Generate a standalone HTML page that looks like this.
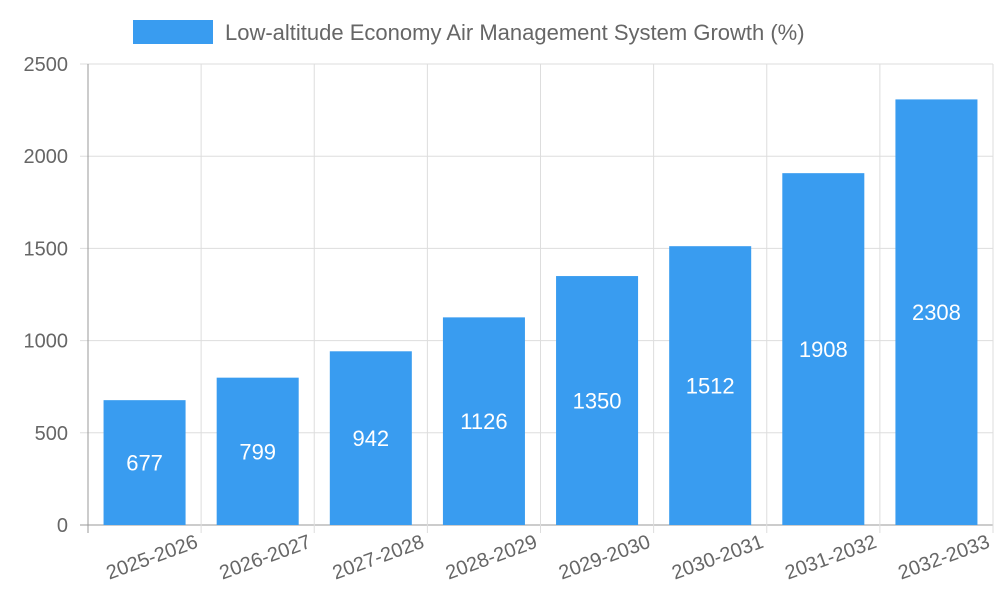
<!DOCTYPE html>
<html><head><meta charset="utf-8"><style>
body{margin:0;background:#fff;}
svg text{font-family:"Liberation Sans",sans-serif;}
</style></head><body>
<svg id="chart" width="1000" height="600" xmlns="http://www.w3.org/2000/svg">
<rect x="133" y="20" width="80" height="24" fill="#399cf0"/>
<text x="225" y="40" font-size="22" fill="#666">Low-altitude Economy Air Management System Growth (%)</text>
<g id="grid"></g><g id="bars"></g><g id="labels"></g>
</svg>
<script>
const categories=["2025-2026","2026-2027","2027-2028","2028-2029","2029-2030","2030-2031","2031-2032","2032-2033"];
const values=[677,799,942,1126,1350,1512,1908,2308];
const yTicks=[0,500,1000,1500,2000,2500];
const NS="http://www.w3.org/2000/svg";
const L=88,R=993,T=64,B=525,maxV=2500;
const bw=(R-L)/categories.length;
function y(v){return B-(v/maxV)*(B-T);}
function x(i){return L+i*bw;}
function mk(t,a,p){const e=document.createElementNS(NS,t);for(const k in a)e.setAttribute(k,a[k]);p.appendChild(e);return e;}
const g=document.getElementById('grid'),bg=document.getElementById('bars'),lg=document.getElementById('labels');
yTicks.forEach(v=>{
 const l=mk('line',{x1:L-8,x2:R,y1:y(v),y2:y(v),stroke:v===0?'#999':'#ddd','stroke-width':1},g);
 
 
 const t=mk('text',{x:L-20,y:y(v)+7,'text-anchor':'end','font-size':20,fill:'#666'},g);
 t.textContent=v;
 
 
});
for(let i=0;i<=categories.length;i++){
 const l=mk('line',{x1:x(i),x2:x(i),y1:T,y2:B+8,stroke:i===0?'#999':'#ddd','stroke-width':1},g);
 
 
}
categories.forEach((c,i)=>{
 const cx=x(i)+bw/2,w=bw*0.725;
 const r=mk('rect',{x:cx-w/2,y:y(values[i]),width:w,height:B-y(values[i]),fill:'#399cf0'},bg);
 
 
 const t=mk('text',{x:cx,y:(y(values[i])+B)/2+8,'text-anchor':'middle','font-size':22,fill:'#fff'},lg);
 t.textContent=values[i];
 
 
 const xl=mk('text',{x:x(i)+bw-2,y:B+22,'text-anchor':'end','font-size':20,fill:'#666',transform:`rotate(-20 ${x(i)+bw-2} ${B+22})`},lg);
 xl.textContent=c;
 
 
});
</script>
</body></html>
